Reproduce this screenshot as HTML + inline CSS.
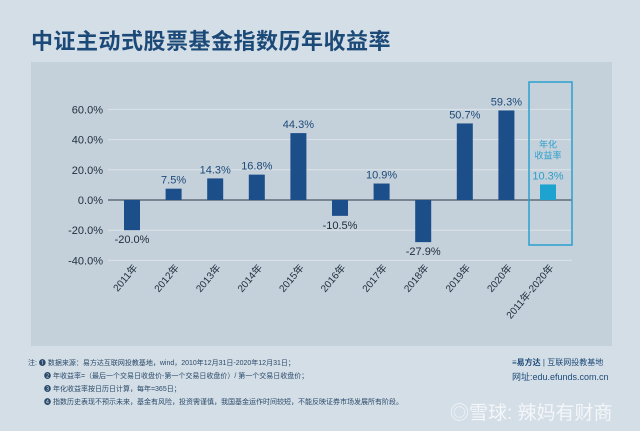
<!DOCTYPE html>
<html><head><meta charset="utf-8"><style>
body{margin:0;width:640px;height:431px;background:#d4dee6;font-family:"Liberation Sans","Noto Sans CJK SC",sans-serif;overflow:hidden;position:relative}
.t{position:absolute;left:31px;top:24px;font-size:22px;font-weight:bold;color:#1c4a78;letter-spacing:0.5px}
.note{position:absolute;font-size:7px;color:#2a4a6a;white-space:nowrap}
</style></head><body>
<div class="t">中证主动式股票基金指数历年收益率</div>
<svg width="640" height="431" style="position:absolute;left:0;top:0" id="c">
<rect x="31" y="62" width="581" height="284" fill="#c4d0da"/>
<g id="g"></g>
</svg>
<div class="note" style="left:28px;top:358px">注: ❶ 数据来源：易方达互联网投教基地，wind，2010年12月31日-2020年12月31日；</div>
<div class="note" style="left:44px;top:371px">❷ 年收益率=（最后一个交易日收盘价-第一个交易日收盘价）/ 第一个交易日收盘价；</div>
<div class="note" style="left:44px;top:384px">❸ 年化收益率按日历日计算，每年=365日；</div>
<div class="note" style="left:44px;top:397px">❹ 指数历史表现不预示未来，基金有风险，投资需谨慎，我国基金运作时间较短，不能反映证券市场发展所有阶段。</div>
<div class="note" style="left:512px;top:357px;font-size:8px;font-weight:bold;color:#1c4a78">≡易方达 <span style="font-weight:normal">| 互联网投教基地</span></div>
<div class="note" style="left:512px;top:370px;font-size:9px;color:#1c4a78">网址:edu.efunds.com.cn</div>
<div class="note" style="left:450px;top:398px;font-size:19px;color:#f4f7fa">◎雪球: 辣妈有财商</div>
<script>
const categories=["2011年","2012年","2013年","2014年","2015年","2016年","2017年","2018年","2019年","2020年","2011年-2020年"];
const values=[-20.0,7.5,14.3,16.8,44.3,-10.5,10.9,-27.9,50.7,59.3,10.3];
const ticks=[60,40,20,0,-20,-40];
const NS="http://www.w3.org/2000/svg",g=document.getElementById('g');
const y=v=>200-v*1.51, x=i=>132+i*41.6;
function el(t,a,txt){const e=document.createElementNS(NS,t);for(const k in a)e.setAttribute(k,a[k]);if(txt!=null)e.textContent=txt;g.appendChild(e);return e;}
ticks.forEach(t=>{
 const l=el('line',{x1:108,x2:572,y1:y(t),y2:y(t),stroke:t===0?'#2a3a4a':'#dbe3ea','stroke-width':1});
 
 
 const tx=el('text',{x:103,y:y(t)+4,'text-anchor':'end','font-size':11,fill:'#1e2e3e'},t.toFixed(1)+'%');
 
 
});
const b=el('rect',{x:529,y:82,width:43,height:163,fill:'none',stroke:'#2aa0cc','stroke-width':1.5});


categories.forEach((c,i)=>{
 const v=values[i],last=i===categories.length-1,cx=x(i);
 const r=el('rect',{x:cx-8,y:Math.min(y(v),y(0)),width:16,height:Math.abs(y(v)-y(0)),fill:last?'#1ea3d0':'#1c4e8a'});
 
 
 const ly=v>=0?y(v)-5:y(v)+13;
 const t=el('text',{x:cx,y:ly,'text-anchor':'middle','font-size':11,fill:last?'#2aa0cc':(v>=0?'#1c4a78':'#1e2e3e')},v.toFixed(1)+'%');
 
 
 const xl=el('text',{x:cx+6,y:268,'text-anchor':'end','font-size':10,fill:'#1e2e3e',transform:`rotate(-50 ${cx+6} 268)`},c);
 
 
 if(last){
  const a=el('text',{x:cx,y:y(v)-37,'text-anchor':'middle','font-size':9,fill:'#2aa0cc'},'年化');
  
  
  const a2=el('text',{x:cx,y:y(v)-26,'text-anchor':'middle','font-size':9,fill:'#2aa0cc'},'收益率');
  
  
 }
});
</script>
</body></html>
